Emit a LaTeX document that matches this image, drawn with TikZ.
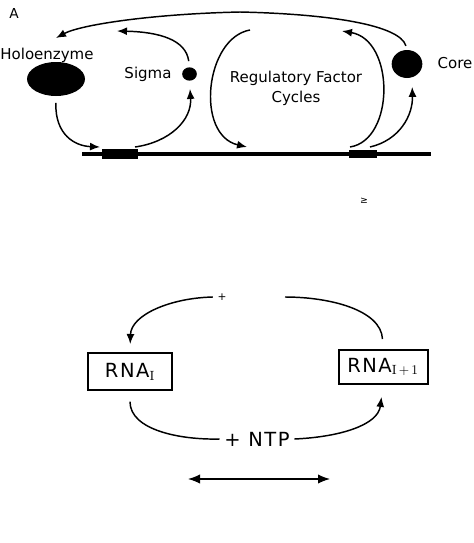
\documentclass[tikz,border=0pt]{standalone}
\usepackage[no-math]{fontspec}
\setmainfont{DejaVu Sans}
\newfontfamily\rnafont[LetterSpace=8]{DejaVu Sans}
\usetikzlibrary{arrows.meta,shapes.geometric}

\begin{document}
\begin{tikzpicture}[x=0.75pt,y=0.75pt,yscale=-1,xscale=1,
  >={Latex[length=7.5pt,width=6pt]},
  arr/.style={->,line width=1.1pt,black},
  blob/.style={ellipse,fill=black,inner sep=0pt},
  lbl/.style={font=\fontsize{11.25}{15}\selectfont},
  rnabox/.style={draw,line width=1.5pt,inner sep=0pt,font=\rnafont\fontsize{14.6}{18}\selectfont}]

\useasboundingbox (0,0) rectangle (474,543);

% panel A
\draw (14,13) node [font=\fontsize{10.3}{12}\selectfont] (panA) {A};

\node [blob,minimum width=43.5pt,minimum height=25.5pt] (holo) at (56,79) {};
\node [lbl] (holotxt) at (47,55) {Holoenzyme};
\node [blob,minimum width=11pt,minimum height=10pt] (sigma) at (189.5,74) {};
\node [lbl] (sigmatxt) at (148,74) {Sigma};
\node [blob,minimum width=23pt,minimum height=21pt] (core) at (407,64) {};
\node [lbl] (coretxt) at (455,63) {Core};
\node [lbl,align=center] (regtxt) at (296,88) {Regulatory Factor\\Cycles};

% DNA
\coordinate (dnaL) at (82,154);
\coordinate (dnaR) at (431,154);
\draw [line width=3pt] (dnaL) -- (dnaR);
\fill (102,149) rectangle (138,159);
\fill (349,150) rectangle (377,158);

\coordinate (dna1) at (100,147);
\coordinate (dna2) at (135,147);
\coordinate (dna3) at (247,147);
\coordinate (dna4) at (350,147);
\coordinate (dna5) at (370,147);
\coordinate (holoin) at (56,38);
\coordinate (sigout) at (117,31);
\coordinate (regin) at (250,30);
\coordinate (regout) at (342,31);

% core back to holoenzyme
\draw [arr,shorten <=3pt] (core.north) .. controls (400,25) and (330,14) .. (240,12) .. controls (150,14) and (80,25) .. (holoin);

% holoenzyme / sigma cycle
\draw [arr,shorten <=5pt] (holo.south) .. controls (55,135) and (75,146) .. (dna1);
\draw [arr,shorten >=6pt] (dna2) .. controls (170,142) and (192,120) .. (sigma.south);
\draw [arr,shorten <=4.5pt] (sigma.north) .. controls (186,40) and (160,32) .. (sigout);

% regulatory factor cycles
\draw [arr] (regin) .. controls (205,38) and (195,135) .. (dna3);
\draw [arr] (dna4) .. controls (395,140) and (395,40) .. (regout);

% release of core
\draw [arr,shorten >=7pt] (dna5) .. controls (400,140) and (413,115) .. (core.290);

\node [font=\fontsize{7}{8}\selectfont] (mark) at (364,201) {≥};

% panel B
\node [rnabox,minimum width=63pt,minimum height=27.75pt] (rnai) at (130,371.5) {RNA$_{\mathrm{I}}$};
\node [rnabox,minimum width=66.75pt,minimum height=25.5pt] (rnaj) at (383,367) {RNA$_{\mathrm{I\,+\,1}}$};

\node [font=\fontsize{8}{10}\selectfont] (plus) at (222,297) {+};
\node [font=\rnafont\fontsize{14.6}{18}\selectfont] (ntp) at (257,439) {+ NTP};

\coordinate (topgap) at (285,297);
\draw [line width=1.1pt,shorten <=7.5pt] (rnaj.north) .. controls (381,310) and (330,297) .. (topgap);
\draw [arr,shorten >=6pt] (plus.west) .. controls (170,298) and (131,315) .. (rnai.north);
\draw [line width=1.1pt,shorten <=8pt] (rnai.south) .. controls (130,430) and (180,440) .. (ntp.west);
\draw [arr,shorten >=9pt] (ntp.east) .. controls (340,437) and (378,425) .. (rnaj.south);

% reversibility
\coordinate (rateL) at (188,479);
\coordinate (rateR) at (330,479);
\draw [<->,line width=0.9pt,>={Latex[length=9pt,width=7pt]}] (rateL) -- (rateR);

\end{tikzpicture}
\end{document}
